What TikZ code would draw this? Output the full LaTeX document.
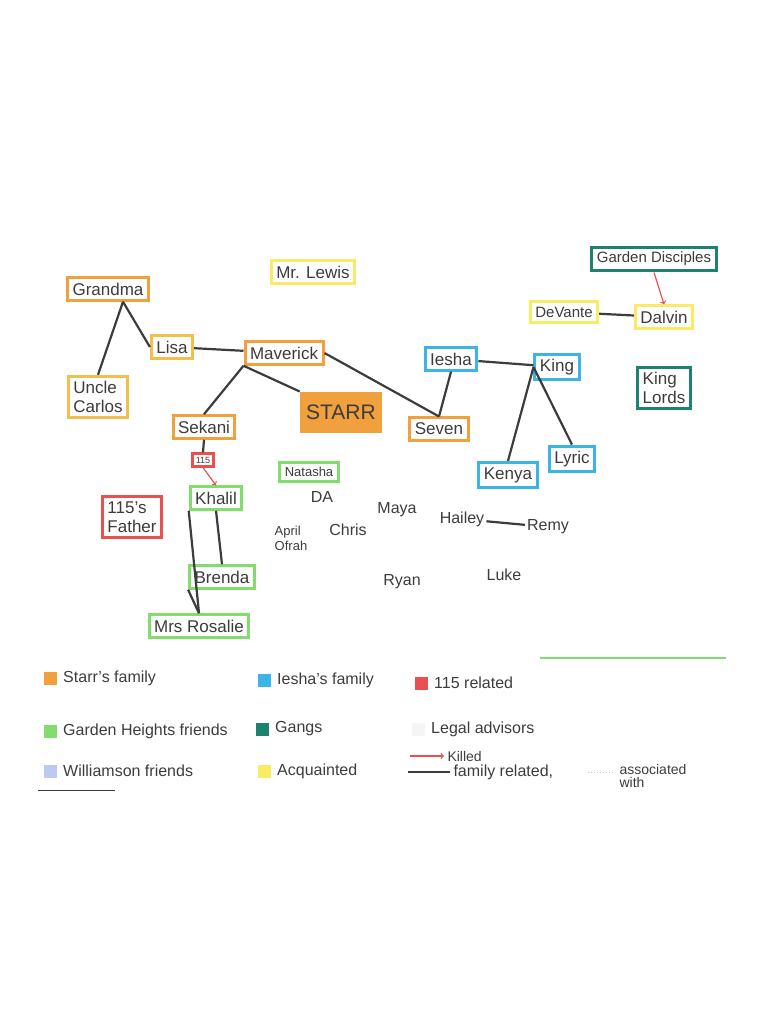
\documentclass[tikz,border=0pt]{standalone}
\usepackage{fontspec}
\setmainfont{Liberation Sans}
\usetikzlibrary{positioning}
\definecolor{sfam}{RGB}{240,160,60}
\definecolor{ifam}{RGB}{60,180,230}
\definecolor{rel}{RGB}{235,80,80}
\definecolor{gh}{RGB}{130,220,110}
\definecolor{gang}{RGB}{30,130,110}
\definecolor{acq}{RGB}{250,235,100}
\definecolor{wf}{RGB}{190,200,240}
\definecolor{ink}{RGB}{60,60,60}
\tikzset{
  basic/.style = {draw, line width=3pt, font=\fontsize{17}{19}\selectfont, text=ink, fill=white, inner sep=5pt},
  starr/.style = {basic, draw=sfam},
  iesha/.style = {basic, draw=ifam},
  related/.style = {basic, draw=rel},
  friend/.style = {basic, draw=gh},
  gangs/.style = {basic, draw=gang},
  acquaint/.style = {basic, draw=acq},
  wson/.style = {font=\fontsize{16}{18}\selectfont, text=ink, inner sep=2pt},
  family/.style = {draw=ink, line width=2.2pt},
  killed/.style = {draw=rel, ->, line width=1.2pt},
  key/.style = {font=\fontsize{16}{18}\selectfont, text=ink, anchor=west},
  swatch/.style = {minimum size=13pt, inner sep=0pt}
}
\begin{document}
\begin{tikzpicture}[x=1pt,y=-1pt]
\useasboundingbox (0,0) rectangle (768,1024);
% Starr's family
\node [starr] (grandma) at (108,289) {Grandma};
\node [starr, draw=sfam!60!acq] (lisa) at (172,347) {Lisa};
\node [starr, draw=sfam!60!acq, align=left] (carlos) at (98,397) {Uncle\\Carlos};
\node [starr] (maverick) at (284,353) {Maverick};
\node [starr, fill=sfam, font=\fontsize{21}{23}\selectfont, minimum height=38pt] (starr) at (341,412) {STARR};
\node [starr] (sekani) at (204,427) {Sekani};
\node [starr] (seven) at (439,429) {Seven};
% Iesha's family
\node [iesha] (iesha) at (451,359) {Iesha};
\node [iesha] (king) at (557,367) {King};
\node [iesha] (kenya) at (508,475) {Kenya};
\node [iesha] (lyric) at (572,459) {Lyric};
% gangs and acquainted
\node [acquaint] (lewis) at (313,272) {Mr. Lewis};
\node [gangs, font=\fontsize{15}{17}\selectfont] (disciples) at (654,259) {Garden Disciples};
\node [acquaint, font=\fontsize{15}{17}\selectfont] (devante) at (564,312) {DeVante};
\node [acquaint] (dalvin) at (664,317) {Dalvin};
\node [gangs, align=left] (kinglords) at (664,388) {King\\Lords};
% 115 related
\node [related, font=\small, inner sep=3pt] (oneonefive) at (203,460) {115};
\node [related, align=left] (father) at (132,517) {115's\\Father};
% Garden Heights friends
\node [friend] (khalil) at (216,498) {Khalil};
\node [friend] (brenda) at (222,577) {Brenda};
\node [friend] (rosalie) at (199,626) {Mrs Rosalie};
\node [friend, font=\fontsize{13}{15}\selectfont] (natasha) at (309,472) {Natasha};
% Williamson friends
\node [wson] (da) at (322,497) {DA};
\node [wson] (maya) at (397,510) {Maya};
\node [wson] (chris) at (348,530) {Chris};
\node [wson, align=left, font=\fontsize{13}{15}\selectfont] (april) at (291,538) {April\\Ofrah};
\node [wson] (hailey) at (462,519) {Hailey};
\node [wson] (remy) at (548,527) {Remy};
\node [wson] (ryan) at (402,582) {Ryan};
\node [wson] (luke) at (504,575) {Luke};
% family lines
\draw [family] (grandma.south) ++(15,0) -- (lisa.west);
\draw [family] (grandma.south) ++(15,0) -- (carlos.north);
\draw [family] (lisa) -- (maverick);
\draw [family] (maverick.south west) -- (starr.north west);
\draw [family] (maverick.south west) -- (sekani.north);
\draw [family] (maverick.east) -- (seven.north);
\draw [family] (iesha) -- (king);
\draw [family] (iesha.south) -- (seven.north);
\draw [family] (king.west) -- (kenya.north);
\draw [family] (king.west) -- (lyric.north);
\draw [family] (devante) -- (dalvin);
\draw [family] (sekani.south) -- (oneonefive.north);
\draw [family] (khalil.south west) -- (rosalie.north);
\draw [family] (khalil.south) -- (brenda.north);
\draw [family] (brenda.south west) -- (rosalie.north);
\draw [family] (hailey) -- (remy);
% killed
\draw [killed] (disciples.south) -- (dalvin.north);
\draw [killed] (oneonefive.south) -- (khalil.north);
% legend
\draw [gh, line width=1.5pt] (540,658) -- (726,658);
\node [swatch, fill=sfam] (k1) at (50,678) {};
\node [key, right=3pt of k1] {Starr's family};
\node [swatch, fill=ifam] (k2) at (264,680) {};
\node [key, right=3pt of k2] {Iesha's family};
\node [swatch, fill=rel] (k3) at (421,683) {};
\node [key, right=3pt of k3] {115 related};
\node [swatch, fill=gh] (k4) at (50,731) {};
\node [key, right=3pt of k4] {Garden Heights friends};
\node [swatch, fill=gang] (k5) at (262,729) {};
\node [key, right=3pt of k5] {Gangs};
\node [swatch, fill=gray!8] (k6) at (418,729) {};
\node [key, right=3pt of k6] {Legal advisors};
\node [swatch, fill=wf] (k7) at (50,771) {};
\node [key, right=3pt of k7] {Williamson friends};
\node [swatch, fill=acq] (k8) at (264,771) {};
\node [key, right=3pt of k8] {Acquainted};
\coordinate (ka) at (410,756);
\coordinate (kb) at (444,756);
\draw [killed] (ka) -- (kb);
\node [key, font=\fontsize{14}{16}\selectfont] at (kb) {Killed};
\coordinate (kc) at (408,772);
\coordinate (kd) at (450,772);
\draw [family] (kc) -- (kd);
\node [key] at (kd) {family related,};
\coordinate (ke) at (588,772);
\coordinate (kf) at (614,772);
\draw [wf, dotted, line width=1pt] (ke) -- (kf);
\node [key, align=left, font=\fontsize{14}{13}\selectfont] at (616,776) {associated\\with};
\draw [ink, line width=1pt] (38,790) -- (115,790);
\end{tikzpicture}
\end{document}
